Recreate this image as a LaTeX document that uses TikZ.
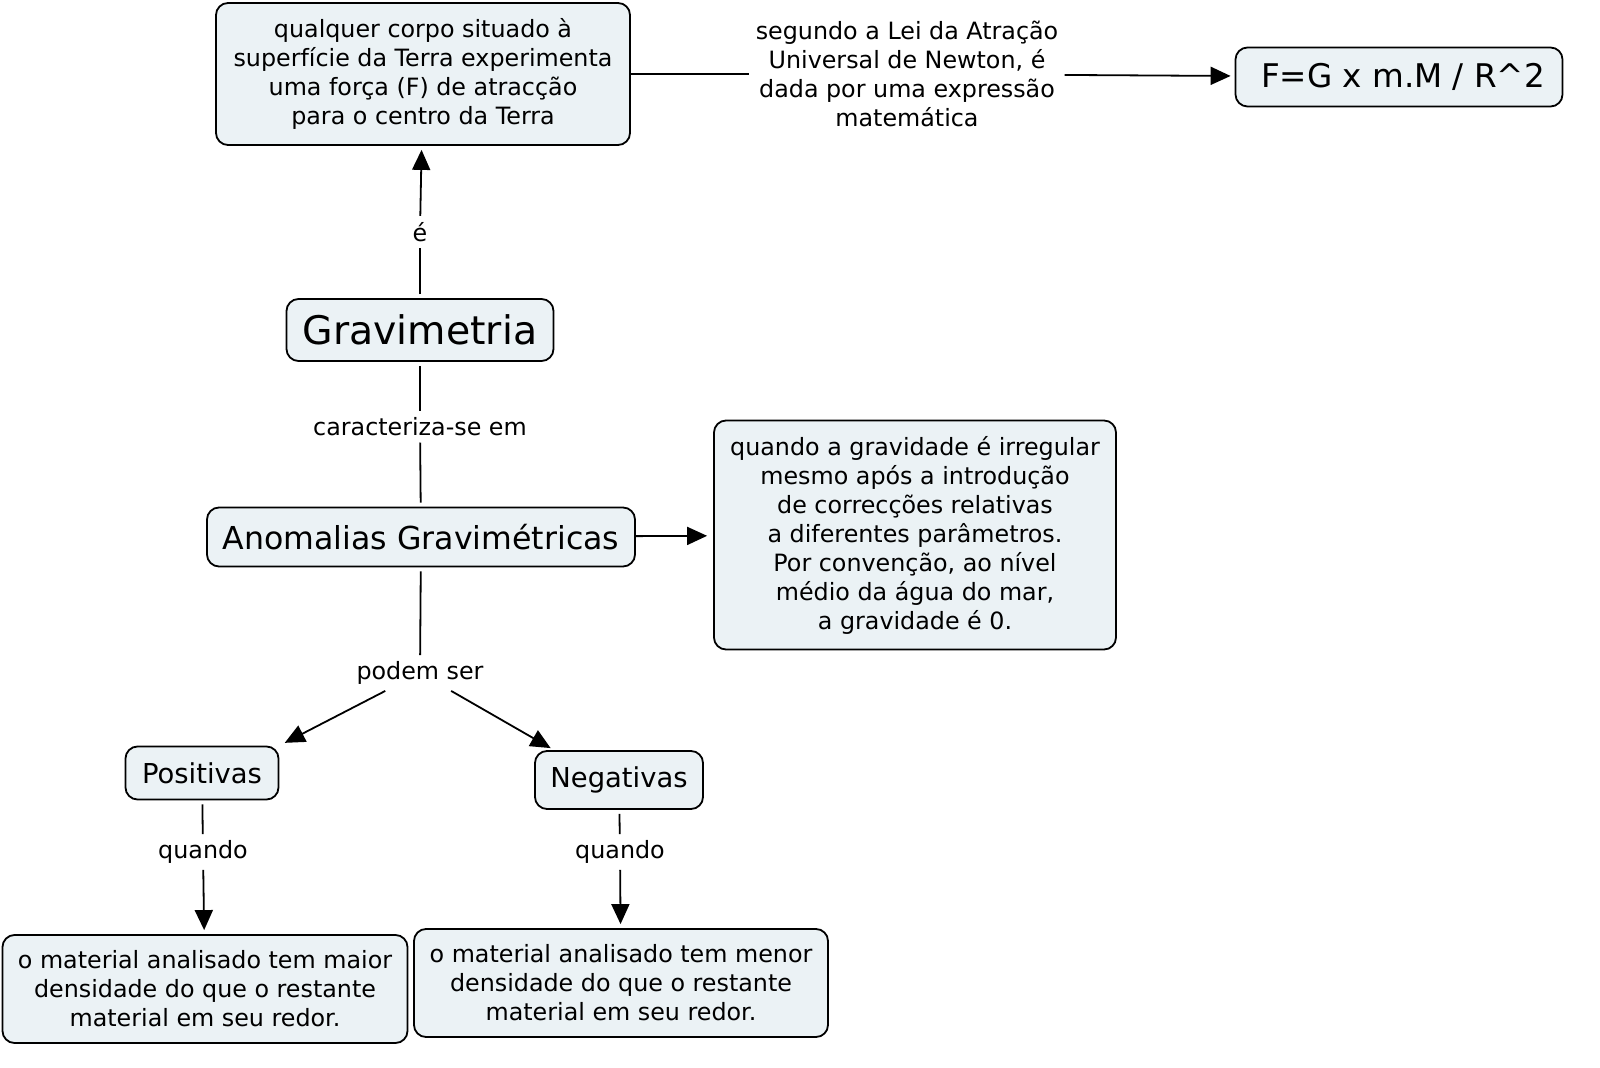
\documentclass[tikz,border=0pt]{standalone}
\usepackage{fontspec}
\setmainfont{DejaVu Sans}
\usetikzlibrary{arrows.meta}
\definecolor{boxfill}{HTML}{EBF2F5}
\tikzset{
  concept/.style={draw, line width=0.9pt, rounded corners=6pt, fill=boxfill, align=center, inner sep=2pt, font=\fontsize{11.9}{14.5}\selectfont},
  linklbl/.style={align=center, inner sep=3pt, font=\fontsize{11.9}{14.5}\selectfont},
  link/.style={line width=0.9pt},
  linkarrow/.style={line width=0.9pt, -{Triangle[length=10pt,width=9pt]}},
}
\begin{document}
\begin{tikzpicture}[x=0.5pt,y=-0.5pt]
  \useasboundingbox (0,0) rectangle (1600,1068);
  % concepts
  \node[concept, minimum width=207pt, minimum height=71pt] (corpo) at (423,74) {qualquer corpo situado à\\ superfície da Terra experimenta\\ uma força (F) de atracção\\ para o centro da Terra};
  \node[concept, minimum width=163.5pt, minimum height=29.5pt, font=\fontsize{16.3}{19}\selectfont] (formula) at (1399,77) {\hspace{4pt}F=G x m.M / R\^{}2};
  \node[concept, minimum width=133.5pt, minimum height=31pt, font=\fontsize{19.7}{23}\selectfont] (grav) at (420,330) {Gravimetria};
  \node[concept, minimum width=214pt, minimum height=29.5pt, font=\fontsize{15.8}{18}\selectfont] (anom) at (421,537) {Anomalias Gravimétricas};
  \node[concept, minimum width=201pt, minimum height=114.5pt] (irreg) at (915,535) {quando a gravidade é irregular\\ mesmo após a introdução\\ de correcções relativas\\ a diferentes parâmetros.\\ Por convenção, ao nível\\ médio da água do mar,\\ a gravidade é 0.};
  \node[concept, minimum width=76.5pt, minimum height=26.5pt, font=\fontsize{13.7}{16}\selectfont] (pos) at (202,773) {Positivas};
  \node[concept, minimum width=84pt, minimum height=29pt, font=\fontsize{13.7}{16}\selectfont] (neg) at (619,780) {Negativas};
  \node[concept, minimum width=202.5pt, minimum height=54pt] (maior) at (205,989) {o material analisado tem maior\\ densidade do que o restante\\ material em seu redor.};
  \node[concept, minimum width=207pt, minimum height=54pt] (menor) at (621,983) {o material analisado tem menor\\ densidade do que o restante\\ material em seu redor.};
  % linking phrases
  \node[linklbl] (lei) at (907,74) {segundo a Lei da Atração\\ Universal de Newton, é\\ dada por uma expressão\\ matemática};
  \node[linklbl] (e) at (420,232) {é};
  \node[linklbl] (carac) at (420,427) {caracteriza-se em};
  \node[linklbl] (podem) at (420,673) {podem ser};
  \node[linklbl] (qpos) at (203,852) {quando};
  \node[linklbl] (qneg) at (620,852) {quando};
  % connections
  \draw[link] (corpo) -- (lei);
  \draw[linkarrow, shorten >=2pt] (lei) -- (formula);
  \draw[link, shorten <=2pt] (grav) -- (e);
  \draw[linkarrow, shorten >=2pt] (e) -- (corpo);
  \draw[link, shorten <=2pt] (grav) -- (carac);
  \draw[link, shorten >=2pt] (carac) -- (anom);
  \draw[linkarrow, shorten >=3pt] (anom) -- (irreg);
  \draw[link, shorten <=2pt] (anom) -- (podem);
  \draw[linkarrow, shorten >=3pt] (podem) -- (pos.north east);
  \draw[linkarrow, shorten >=2pt] (podem) -- ([xshift=10pt]neg.north west);
  \draw[link, shorten <=2pt] (pos) -- (qpos);
  \draw[linkarrow, shorten >=2pt] (qpos) -- (maior);
  \draw[link, shorten <=2pt] (neg) -- (qneg);
  \draw[linkarrow, shorten >=2pt] (qneg) -- (menor);
\end{tikzpicture}
\end{document}
